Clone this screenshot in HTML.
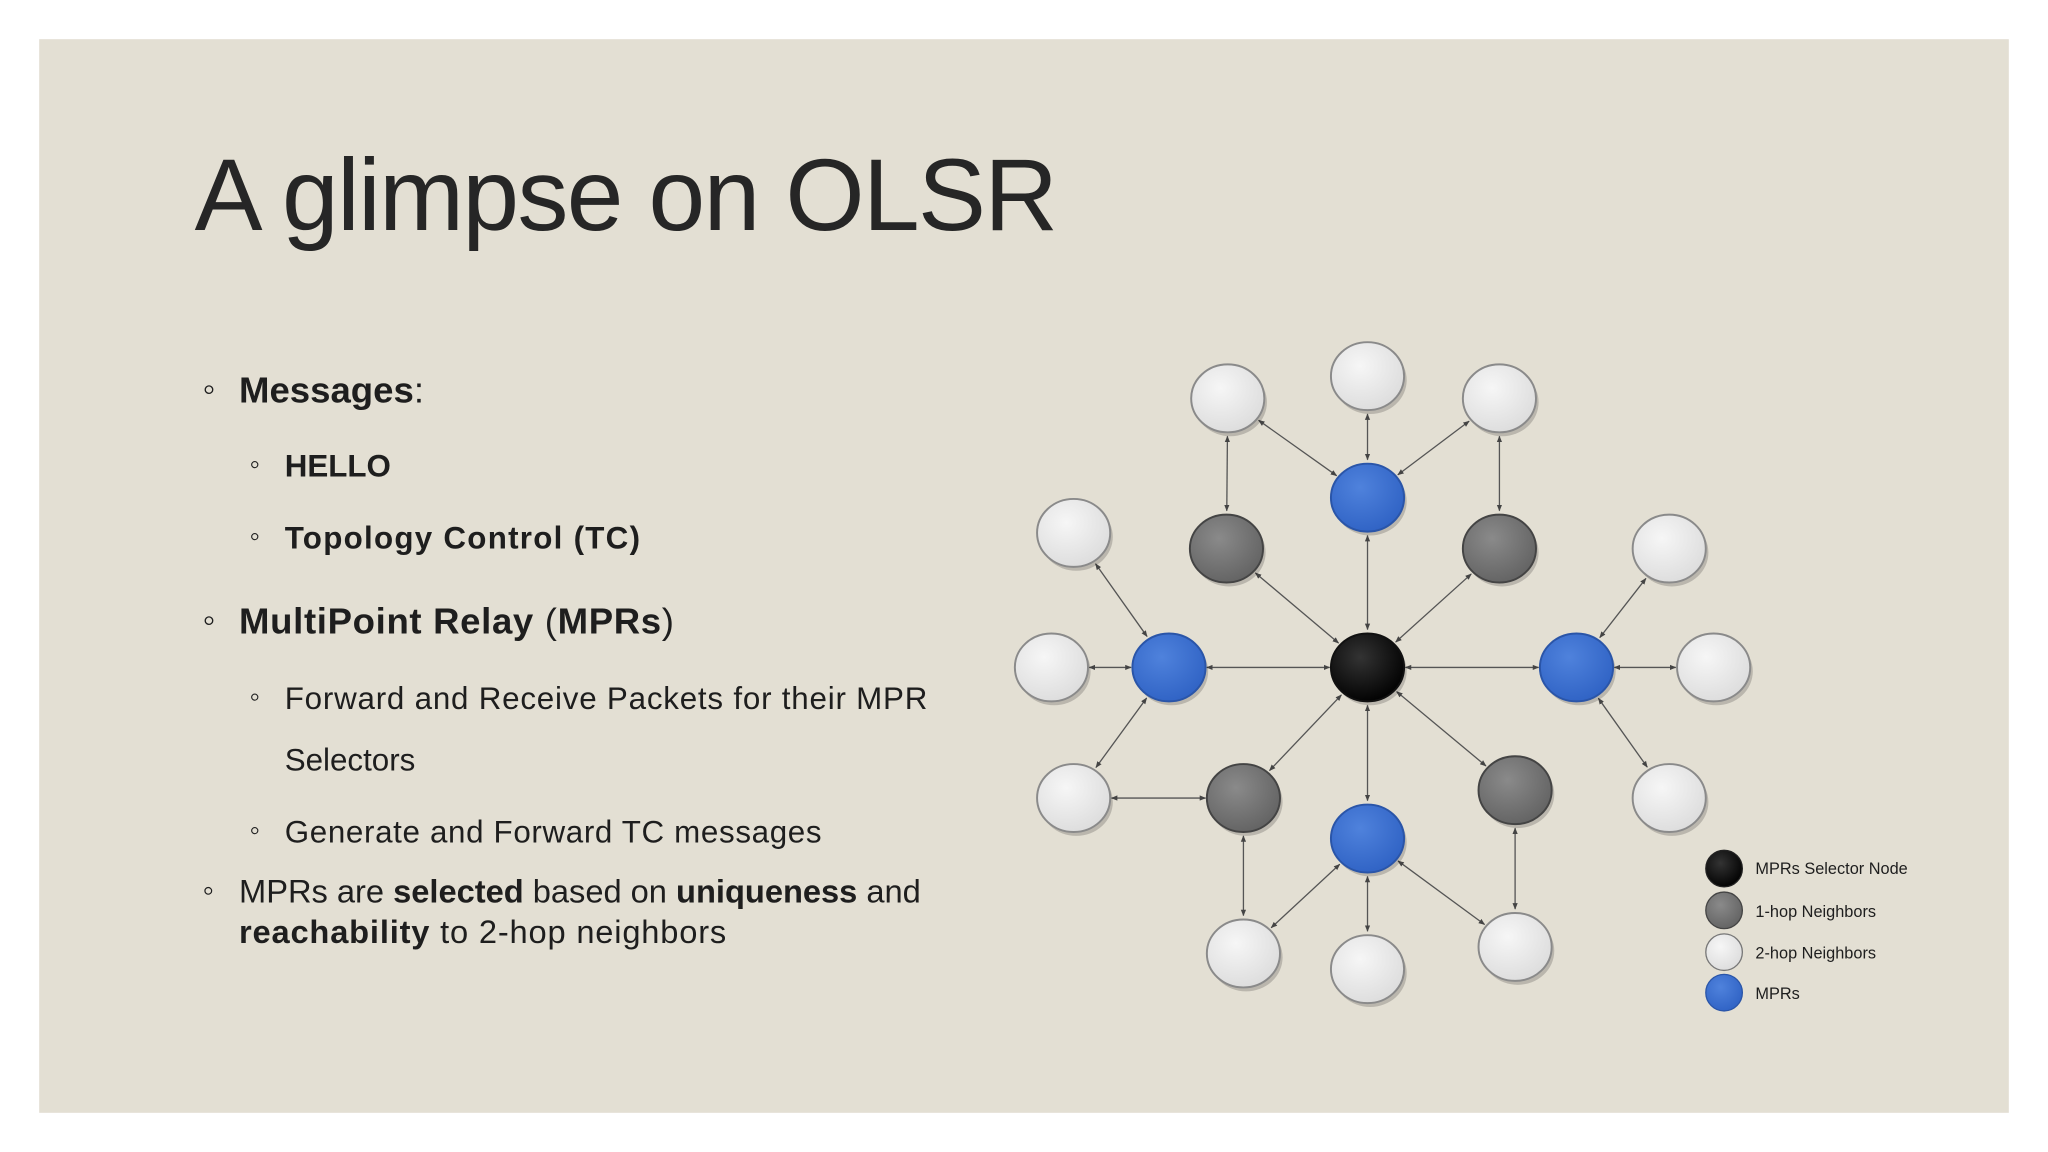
<!DOCTYPE html>
<html><head><meta charset="utf-8"><style>
html,body{margin:0;padding:0;background:#fff;width:2048px;height:1152px;overflow:hidden}
svg{display:block}
text{font-family:"Liberation Sans",sans-serif;fill:#1e1e1e}
</style></head><body>
<svg id="s" width="2048" height="1152" viewBox="0 0 1568 882" xmlns="http://www.w3.org/2000/svg">
<defs>
<marker id="a" viewBox="0 0 10 10" refX="9" refY="5" markerWidth="5" markerHeight="5" orient="auto-start-reverse"><path d="M0,1 L10,5 L0,9 z" fill="#444"/></marker>
<radialGradient id="g2" cx="40%" cy="35%" r="70%"><stop offset="0" stop-color="#f6f6f6"/><stop offset="1" stop-color="#dcdcdc"/></radialGradient>
<radialGradient id="g1" cx="40%" cy="35%" r="70%"><stop offset="0" stop-color="#8a8a8a"/><stop offset="1" stop-color="#626262"/></radialGradient>
<radialGradient id="gm" cx="40%" cy="35%" r="70%"><stop offset="0" stop-color="#4f82dc"/><stop offset="1" stop-color="#2f62c4"/></radialGradient>
<radialGradient id="gc" cx="40%" cy="35%" r="70%"><stop offset="0" stop-color="#333"/><stop offset="1" stop-color="#000"/></radialGradient>
</defs>
<rect x="30" y="30" width="1508" height="822" fill="#e3dfd3"/>
<text x="149" y="176" font-size="78" textLength="661" style="fill:#262626">A glimpse on OLSR</text>
<g font-size="28">
<text x="155" y="307" font-size="28">◦</text>
<text x="183" y="308"><tspan font-weight="bold">Messages</tspan>:</text>
<text x="191" y="363" font-size="23">◦</text>
<text x="218" y="365" font-size="24" font-weight="bold">HELLO</text>
<text x="191" y="418" font-size="23">◦</text>
<text x="218" y="420" font-size="24" font-weight="bold" textLength="272">Topology Control (TC)</text>
<text x="155" y="484" font-size="28">◦</text>
<text x="183" y="485" textLength="333"><tspan font-weight="bold">MultiPoint Relay</tspan> (<tspan font-weight="bold">MPRs</tspan>)</text>
<text x="191" y="541" font-size="23">◦</text>
<text x="218" y="543" font-size="24" textLength="492">Forward and Receive Packets for their MPR</text>
<text x="218" y="590" font-size="24">Selectors</text>
<text x="191" y="643" font-size="23">◦</text>
<text x="218" y="645" font-size="24" textLength="411">Generate and Forward TC messages</text>
<text x="155" y="690" font-size="25">◦</text>
<text x="183" y="691" font-size="25" textLength="522">MPRs are <tspan font-weight="bold">selected</tspan> based on <tspan font-weight="bold">uniqueness</tspan> and</text>
<text x="183" y="722" font-size="25" textLength="373"><tspan font-weight="bold">reachability</tspan> to 2-hop neighbors</text>
</g>
<g id="edges" stroke="#555" stroke-width="1" fill="none"></g>
<g id="nodes"></g>
<g font-size="12.5">
<circle cx="1320" cy="665" r="14" fill="url(#gc)" stroke="#222"/>
<circle cx="1320" cy="697" r="14" fill="url(#g1)" stroke="#444"/>
<circle cx="1320" cy="729" r="14" fill="url(#g2)" stroke="#777"/>
<circle cx="1320" cy="760" r="14" fill="url(#gm)" stroke="#2a55a8"/>
<text x="1344" y="669">MPRs Selector Node</text>
<text x="1344" y="702">1-hop Neighbors</text>
<text x="1344" y="734">2-hop Neighbors</text>
<text x="1344" y="765">MPRs</text>
</g>
</svg>
<script>
var N={t1:[940,305,2],t2:[1047,288,2],t3:[1148,305,2],mt:[1047,381,'m'],h1:[939,420,1],h2:[1148,420,1],
l1:[822,408,2],l2:[805,511,2],l3:[822,611,2],ml:[895,511,'m'],c:[1047,511,'c'],mr:[1207,511,'m'],
r1:[1278,420,2],r2:[1312,511,2],r3:[1278,611,2],h3:[952,611,1],h4:[1160,605,1],mb:[1047,642,'m'],
b1:[952,730,2],b2:[1047,742,2],b3:[1160,725,2]};
var E=[['c','mt'],['c','ml'],['c','mr'],['c','mb'],['c','h1'],['c','h2'],['c','h3'],['c','h4'],
['mt','t1'],['mt','t2'],['mt','t3'],['h1','t1'],['h2','t3'],['ml','l1'],['ml','l2'],['ml','l3'],
['mr','r1'],['mr','r2'],['mr','r3'],['mb','b1'],['mb','b2'],['mb','b3'],['h3','l3'],['h3','b1'],['h4','b3']];
var ns='http://www.w3.org/2000/svg',eg=document.getElementById('edges'),ng=document.getElementById('nodes');
E.forEach(function(e){var a=N[e[0]],b=N[e[1]],dx=b[0]-a[0],dy=b[1]-a[1],L=Math.hypot(dx,dy),ux=dx/L,uy=dy/L,r=29;
var l=document.createElementNS(ns,'line');l.setAttribute('x1',a[0]+ux*r);l.setAttribute('y1',a[1]+uy*r);
l.setAttribute('x2',b[0]-ux*r);l.setAttribute('y2',b[1]-uy*r);l.setAttribute('marker-start','url(#a)');l.setAttribute('marker-end','url(#a)');eg.appendChild(l);});
var F={2:['url(#g2)','#8a8a8a'],1:['url(#g1)','#444'],m:['url(#gm)','#2a55a8'],c:['url(#gc)','#111']};
for(var k in N){var n=N[k],s=document.createElementNS(ns,'ellipse');s.setAttribute('cx',n[0]+2);s.setAttribute('cy',n[1]+3);s.setAttribute('rx',28);s.setAttribute('ry',26);s.setAttribute('fill','rgba(0,0,0,0.18)');ng.appendChild(s);
var c=document.createElementNS(ns,'ellipse');c.setAttribute('cx',n[0]);c.setAttribute('cy',n[1]);c.setAttribute('rx',28);c.setAttribute('ry',26);c.setAttribute('fill',F[n[2]][0]);c.setAttribute('stroke',F[n[2]][1]);c.setAttribute('stroke-width',1.5);ng.appendChild(c);}
</script>
</body></html>
